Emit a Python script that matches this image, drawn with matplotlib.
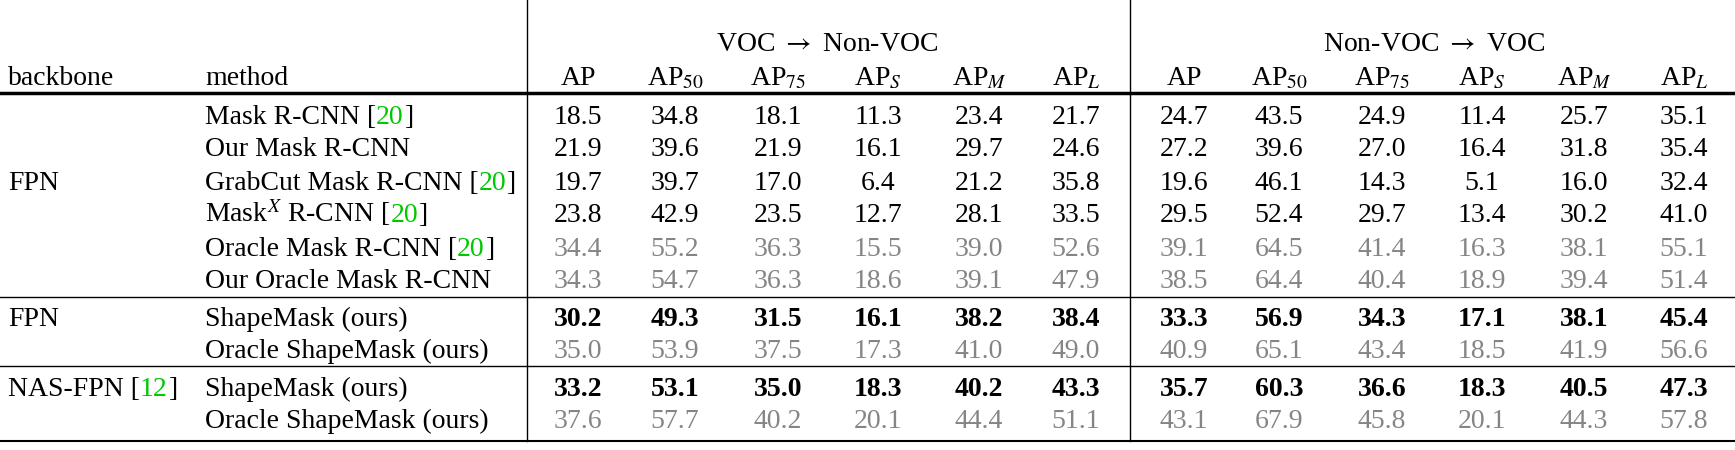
import matplotlib
matplotlib.use("Agg")
import matplotlib.pyplot as plt

plt.rcParams['font.family'] = ['Liberation Serif', 'DejaVu Serif']
plt.rcParams['mathtext.fontset'] = 'stix'

backbones = ["FPN", "FPN", "NAS-FPN"]
# method name, reference (green), row style
method_names = ["Mask R-CNN", "Our Mask R-CNN", "GrabCut Mask R-CNN", "Mask$^{X}$ R-CNN",
                "Oracle Mask R-CNN", "Our Oracle Mask R-CNN",
                "ShapeMask (ours)", "Oracle ShapeMask (ours)",
                "ShapeMask (ours)", "Oracle ShapeMask (ours)"]
method_refs = ["20", "", "20", "20", "20", "", "", "", "", ""]
row_style = ["n", "n", "n", "n", "g", "g", "b", "g", "b", "g"]
voc_to_nonvoc = [
    [18.5, 34.8, 18.1, 11.3, 23.4, 21.7],
    [21.9, 39.6, 21.9, 16.1, 29.7, 24.6],
    [19.7, 39.7, 17.0, 6.4, 21.2, 35.8],
    [23.8, 42.9, 23.5, 12.7, 28.1, 33.5],
    [34.4, 55.2, 36.3, 15.5, 39.0, 52.6],
    [34.3, 54.7, 36.3, 18.6, 39.1, 47.9],
    [30.2, 49.3, 31.5, 16.1, 38.2, 38.4],
    [35.0, 53.9, 37.5, 17.3, 41.0, 49.0],
    [33.2, 53.1, 35.0, 18.3, 40.2, 43.3],
    [37.6, 57.7, 40.2, 20.1, 44.4, 51.1],
]
nonvoc_to_voc = [
    [24.7, 43.5, 24.9, 11.4, 25.7, 35.1],
    [27.2, 39.6, 27.0, 16.4, 31.8, 35.4],
    [19.6, 46.1, 14.3, 5.1, 16.0, 32.4],
    [29.5, 52.4, 29.7, 13.4, 30.2, 41.0],
    [39.1, 64.5, 41.4, 16.3, 38.1, 55.1],
    [38.5, 64.4, 40.4, 18.9, 39.4, 51.4],
    [33.3, 56.9, 34.3, 17.1, 38.1, 45.4],
    [40.9, 65.1, 43.4, 18.5, 41.9, 56.6],
    [35.7, 60.3, 36.6, 18.3, 40.5, 47.3],
    [43.1, 67.9, 45.8, 20.1, 44.3, 57.8],
]
metric_labels = ["AP", "AP$_{50}$", "AP$_{75}$", "AP$_{S}$", "AP$_{M}$", "AP$_{L}$"]
group_titles = ["VOC $\\rightarrow$ Non-VOC", "Non-VOC $\\rightarrow$ VOC"]

W, H = 1735, 450
fig = plt.figure(figsize=(W / 100, H / 100), dpi=100)
ax = fig.add_axes([0, 0, 1, 1])
ax.set_xlim(0, W)
ax.set_ylim(H, 0)
ax.axis("off")

fs = 20
off = 8  # baseline sits this far below the row centre
col_x = [578, 675, 778, 878, 979, 1076, 1184, 1279, 1382, 1482, 1584, 1684]
row_y = [116, 148, 182, 214, 248, 280, 318, 350, 388, 420]
x_backbone, x_method = 8, 205
gray = "#858585"
green = "#00c800"

renderer = fig.canvas.get_renderer()


def seq_text(x, y, parts, **kw):
    # draw text pieces one after another, each with its own colour
    for s, c in parts:
        t = ax.text(x, y + off, s, color=c, ha="left", va="baseline", fontsize=fs, **kw)
        bb = t.get_window_extent(renderer)
        x = ax.transData.inverted().transform((bb.x1, 0))[0]
    return x


def ctext(x, y, s, **kw):
    ax.text(x, y + off, s, fontsize=fs, ha="center", va="baseline", **kw)


# headers
seq_text(x_backbone, 77, [("backbone", "black")])
seq_text(x_method, 77, [("method", "black")])
for g, title in enumerate(group_titles):
    cx = (col_x[g * 6] + col_x[g * 6 + 5]) / 2
    ctext(cx, 43, title)
    for k, lab in enumerate(metric_labels):
        ctext(col_x[g * 6 + k], 77, lab)

# rows
for i in range(len(method_names)):
    y = row_y[i]
    parts = [(method_names[i], "black")]
    if method_refs[i]:
        parts = [(method_names[i] + " [", "black"), (method_refs[i], green), ("]", "black")]
    seq_text(x_method, y, parts)
    vals = voc_to_nonvoc[i] + nonvoc_to_voc[i]
    st = row_style[i]
    for k, v in enumerate(vals):
        ctext(col_x[k], y, f"{v:.1f}", color=gray if st == "g" else "black",
              fontweight="bold" if st == "b" else "normal")

seq_text(x_backbone, row_y[2], [(backbones[0], "black")])
seq_text(x_backbone, row_y[6], [(backbones[1], "black")])
seq_text(x_backbone, row_y[8], [(backbones[2] + " [", "black"), ("12", green), ("]", "black")])

# rules
ax.plot([0, W], [93, 93], color="black", lw=2.5)
ax.plot([0, W], [297, 297], color="black", lw=1)
ax.plot([0, W], [366, 366], color="black", lw=1)
ax.plot([0, W], [441, 441], color="black", lw=1.5)
for vx in [527, 1130]:
    ax.plot([vx, vx], [0, 441], color="black", lw=1)

fig.savefig("out.png", dpi=100)
